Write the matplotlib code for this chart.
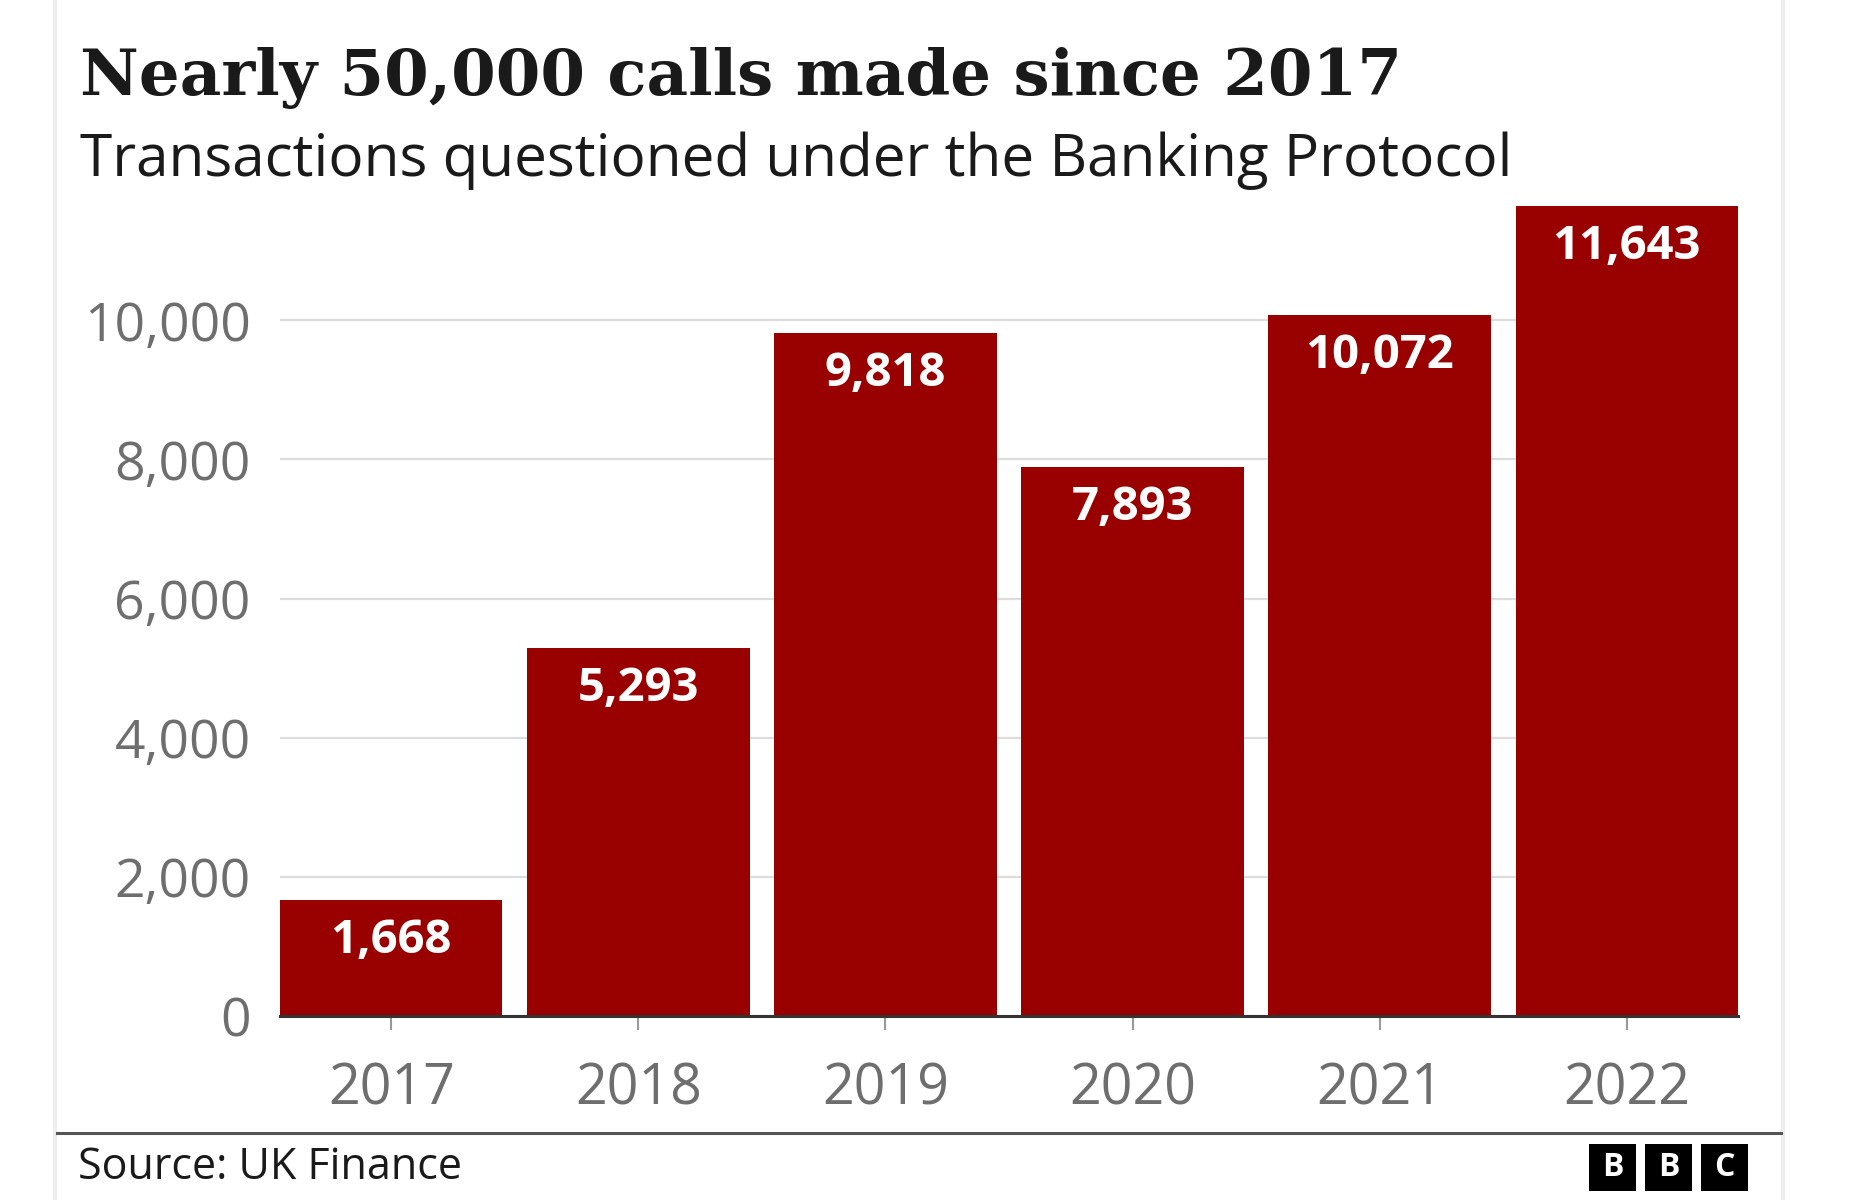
import matplotlib
matplotlib.use("Agg")
import matplotlib.pyplot as plt
from matplotlib.patches import Rectangle
from matplotlib.lines import Line2D
from matplotlib.ticker import FuncFormatter
from matplotlib import font_manager as fm

years = ["2017", "2018", "2019", "2020", "2021", "2022"]
calls = [1668, 5293, 9818, 7893, 10072, 11643]
y_ticks = [0, 2000, 4000, 6000, 8000, 10000]

title = "Nearly 50,000 calls made since 2017"
subtitle = "Transactions questioned under the Banking Protocol"
source = "Source: UK Finance"

W, H = 1856, 1200
fig = plt.figure(figsize=(W / 100, H / 100), dpi=100)
fig.patch.set_facecolor("white")

RED = "#990000"
SANS = ["Open Sans", "DejaVu Sans"]
names = {f.name for f in fm.fontManager.ttflist}
TITLE_FAMILY = ["DejaVu Serif Condensed"] if "DejaVu Serif Condensed" in names else ["DejaVu Serif"]


def fx(px):
    return px / W


def fy(py):
    return 1 - py / H


renderer = fig.canvas.get_renderer()


def fit_text(x, y, s, target_w, size0, **kw):
    t = fig.text(x, y, s, fontsize=size0, **kw)
    w = t.get_window_extent(renderer=renderer).width
    t.set_fontsize(size0 * target_w / w)
    return t


# Title and subtitle
fit_text(fx(80), fy(95), title, 1322, 50, family=TITLE_FAMILY,
         fontweight="bold", color="#1a1a1a", va="baseline", ha="left")
fit_text(fx(80), fy(176), subtitle, 1435, 34, family=SANS,
         color="#1a1a1a", va="baseline", ha="left")

# Axes
left, right = 280, 1738
top, bottom = 206, 1016
ax = fig.add_axes([fx(left), fy(bottom), fx(right - left), (bottom - top) / H])
x = list(range(len(years)))
bars = ax.bar(x, calls, width=0.9, color=RED, zorder=2)
ax.set_xlim(-0.45, len(years) - 0.55)
ax.set_ylim(0, max(calls))
ax.set_yticks(y_ticks)
ax.yaxis.set_major_formatter(FuncFormatter(lambda v, p: f"{int(v):,}"))
ax.set_xticks(x)
ax.set_xticklabels(years)
ax.grid(axis="y", color="#dcdcdc", linewidth=1.6, zorder=0)
ax.set_axisbelow(True)
for s in ["top", "right", "left"]:
    ax.spines[s].set_visible(False)
ax.spines["bottom"].set_color("#333333")
ax.spines["bottom"].set_linewidth(2.2)
ax.spines["bottom"].set_zorder(3)
ax.tick_params(axis="y", length=0, pad=21, labelsize=38.5, labelcolor="#6e6e6e")
ax.tick_params(axis="x", length=10, width=1.5, color="#999999", pad=23,
               labelsize=40, labelcolor="#6e6e6e")
for lab in ax.get_yticklabels() + ax.get_xticklabels():
    lab.set_family(SANS)

for rect, v in zip(bars, calls):
    ax.annotate(f"{v:,}", (rect.get_x() + rect.get_width() / 2, v),
                xytext=(0, -29), textcoords="offset points",
                ha="center", va="center", color="white", fontsize=34,
                fontweight="bold", family=SANS, zorder=4)

# Frame lines
fig.add_artist(Line2D([fx(55), fx(55)], [0, 1], color="#eeeeee", linewidth=3))
fig.add_artist(Line2D([fx(1783), fx(1783)], [0, 1], color="#eeeeee", linewidth=3))
fig.add_artist(Line2D([fx(57), fx(1781)], [fy(1133), fy(1133)],
                      color="#555555", linewidth=2.2))

# Source
fit_text(fx(78), fy(1168), source, 384, 26, family=SANS, color="#1a1a1a",
         va="center", ha="left")

# BBC logo
sq = 47
gap = 9
x0 = 1589
y0 = 1144
for i, ch in enumerate("BBC"):
    xl = x0 + i * (sq + gap)
    fig.add_artist(Rectangle((fx(xl), fy(y0 + sq)), fx(sq), sq / H,
                             facecolor="black", edgecolor="none"))
    fig.text(fx(xl + sq / 2), fy(y0 + sq / 2), ch, color="white",
             fontsize=23, fontweight="bold", family=SANS,
             ha="center", va="center")

fig.savefig("out.png", dpi=100, facecolor="white")
